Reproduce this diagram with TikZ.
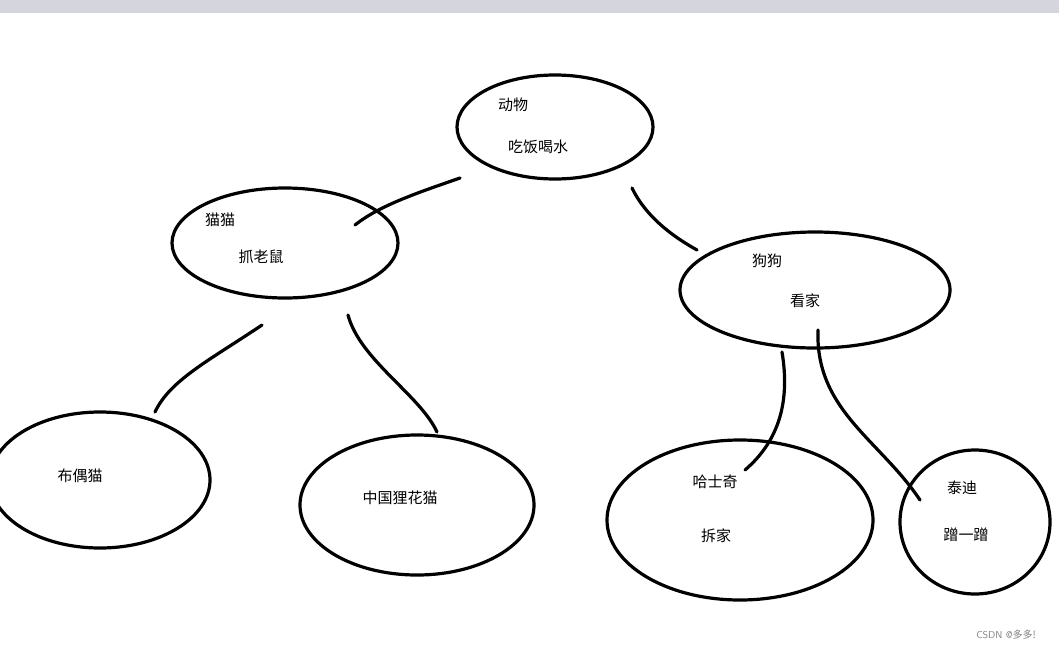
\documentclass[tikz,border=0pt]{standalone}
\usepackage{fontspec}
\newfontfamily\cjk{Noto Sans CJK SC}
\begin{document}
\begin{tikzpicture}[x=1pt,y=-1pt,
  oval/.style={draw=black,line width=3.2pt},
  lbl/.style={font=\cjk\fontsize{15}{17}\selectfont,inner sep=0pt},
  link/.style={draw=black,line width=3.2pt,line cap=round}]
\useasboundingbox (0,0) rectangle (1059,651);
\fill[white] (0,0) rectangle (1059,651);
\fill[blue!10!gray!30] (0,0) rectangle (1059,13);
% ovals
\draw[oval] (555,127) ellipse [x radius=98,y radius=52];
\draw[oval] (285,243) ellipse [x radius=113,y radius=55];
\draw[oval] (815,290) ellipse [x radius=135,y radius=58];
\draw[oval] (100,480) ellipse [x radius=110,y radius=68];
\draw[oval] (417,505) ellipse [x radius=117,y radius=70];
\draw[oval] (740,520) ellipse [x radius=133,y radius=80];
\draw[oval] (975,522) ellipse [x radius=75,y radius=72];
% labels
\node[lbl] (a1) at (513,105) {动物};
\node[lbl] (a2) at (538,147) {吃饭喝水};
\node[lbl] (b1) at (220,220) {猫猫};
\node[lbl] (b2) at (261,257) {抓老鼠};
\node[lbl] (c1) at (767,261) {狗狗};
\node[lbl] (c2) at (805,301) {看家};
\node[lbl] (d1) at (80,476) {布偶猫};
\node[lbl] (e1) at (400,498) {中国狸花猫};
\node[lbl] (f1) at (715,482) {哈士奇};
\node[lbl] (f2) at (716,536) {拆家};
\node[lbl] (g1) at (962,488) {泰迪};
\node[lbl] (g2) at (966,535) {蹭一蹭};
\node[font=\sffamily\fontsize{10}{11}\selectfont,text=gray,inner sep=0pt] (w) at (1006,635) {CSDN @\cjk 多多!};
% connector ends
\coordinate (p1) at (460,178); \coordinate (q1) at (355,225);
\coordinate (p2) at (632,188); \coordinate (q2) at (697,250);
\coordinate (p3) at (262,325); \coordinate (q3) at (155,412);
\coordinate (p4) at (348,315); \coordinate (q4) at (437,432);
\coordinate (p5) at (782,352); \coordinate (q5) at (745,470);
\coordinate (p6) at (818,330); \coordinate (q6) at (920,500);
\draw[link] (p1) .. controls (420,192) and (380,205) .. (q1);
\draw[link] (p2) .. controls (645,215) and (670,235) .. (q2);
\draw[link] (p3) .. controls (210,360) and (170,380) .. (q3);
\draw[link] (p4) .. controls (360,360) and (420,395) .. (q4);
\draw[link] (p5) .. controls (790,400) and (780,440) .. (q5);
\draw[link] (p6) .. controls (815,410) and (880,440) .. (q6);
\end{tikzpicture}
\end{document}
